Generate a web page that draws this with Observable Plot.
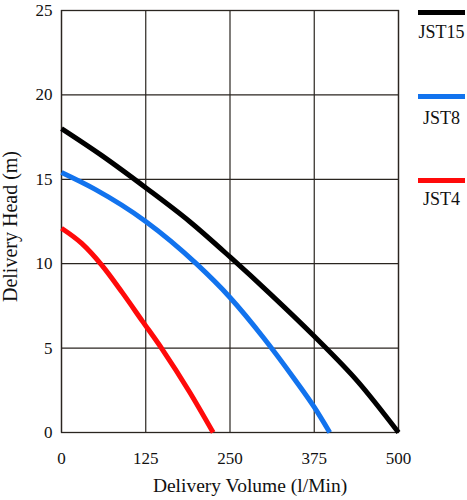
<!DOCTYPE html>
<html>
<head>
<meta charset="utf-8">
<script src="https://cdn.jsdelivr.net/npm/d3@7"></script>
<script src="https://cdn.jsdelivr.net/npm/@observablehq/plot@0.6"></script>
<style>
  body { margin: 0; background: #fff; }
  #chart { position: relative; width: 467px; height: 500px; font-family: 'Liberation Serif', 'Times New Roman', serif; }
  .swatch { position: absolute; left: 418px; width: 47px; height: 5px; }
  .name { position: absolute; left: 413px; width: 57px; text-align: center; font-size: 18px; line-height: 18px; color: #111; }
</style>
</head>
<body>
<div id="chart"></div>
<script>
  // Pump curves (flow in l/min, head in m)
  const models = ['JST15', 'JST8', 'JST4'];
  const colors = ['#000000', '#1273ee', '#ff0a0a'];

  const flow15 = [0, 60, 125, 190, 250, 310, 375, 440, 500];
  const head15 = [18, 16.4, 14.5, 12.5, 10.4, 8.2, 5.7, 3.0, 0];

  const flow8 = [0, 50, 125, 200, 250, 300, 345, 375, 398];
  const head8 = [15.4, 14.4, 12.5, 10, 8.0, 5.6, 3.2, 1.5, 0];

  const flow4 = [0, 30, 60, 90, 120, 150, 190, 225];
  const head4 = [12.1, 11.2, 9.9, 8.3, 6.6, 4.9, 2.4, 0];

  const xTicks = [0, 125, 250, 375, 500];
  const yTicks = [0, 5, 10, 15, 20, 25];

  const toRows = (model, flows, heads) => flows.map((f, i) => ({ model, flow: f, head: heads[i] }));
  const rows = [
    ...toRows('JST15', flow15, head15),
    ...toRows('JST8', flow8, head8),
    ...toRows('JST4', flow4, head4)
  ];

  const chart = Plot.plot({
    width: 467,
    height: 500,
    marginLeft: 61,
    marginRight: 69,
    marginTop: 10,
    marginBottom: 68,
    style: {
      fontFamily: "'Liberation Serif', 'Times New Roman', serif",
      fontSize: '17px',
      color: '#111',
      background: 'transparent',
      overflow: 'visible'
    },
    x: { domain: [0, 500] },
    y: { domain: [0, 25] },
    color: { domain: models, range: colors },
    marks: [
      Plot.gridX(xTicks, { stroke: '#2a2520', strokeOpacity: 1, strokeWidth: 1.2 }),
      Plot.gridY(yTicks, { stroke: '#2a2520', strokeOpacity: 1, strokeWidth: 1.2 }),
      Plot.frame({ stroke: '#2a2520', strokeWidth: 1.3 }),
      Plot.axisX(xTicks, { tickSize: 0, tickPadding: 19, fontSize: 17, label: null }),
      Plot.axisY(yTicks, { tickSize: 0, tickPadding: 9, fontSize: 17, label: null }),
      // axis titles
      Plot.text(['Delivery Volume (l/Min)'], {
        frameAnchor: 'bottom', textAnchor: 'middle', lineAnchor: 'middle',
        dx: 20, dy: 53, fontSize: 19.5, fill: '#111'
      }),
      Plot.text(['Delivery Head (m)'], {
        frameAnchor: 'left', textAnchor: 'middle', lineAnchor: 'middle', rotate: -90,
        dx: -51, dy: 5, fontSize: 20, fill: '#111'
      }),
      Plot.line(rows, {
        x: 'flow', y: 'head', z: 'model', stroke: 'model',
        strokeWidth: 5, curve: 'monotone-x', strokeLinecap: 'butt'
      })
    ]
  });

  const root = document.getElementById('chart');
  root.appendChild(chart);

  // Legend at right: swatch above name
  const swatchTops = [10, 94, 178];
  const nameTops = [23, 109, 190];
  models.forEach((m, i) => {
    const s = document.createElement('div');
    s.className = 'swatch';
    s.style.top = swatchTops[i] + 'px';
    s.style.background = colors[i];
    root.appendChild(s);
    const n = document.createElement('div');
    n.className = 'name';
    n.style.top = nameTops[i] + 'px';
    n.textContent = m;
    root.appendChild(n);
  });
</script>
</body>
</html>
